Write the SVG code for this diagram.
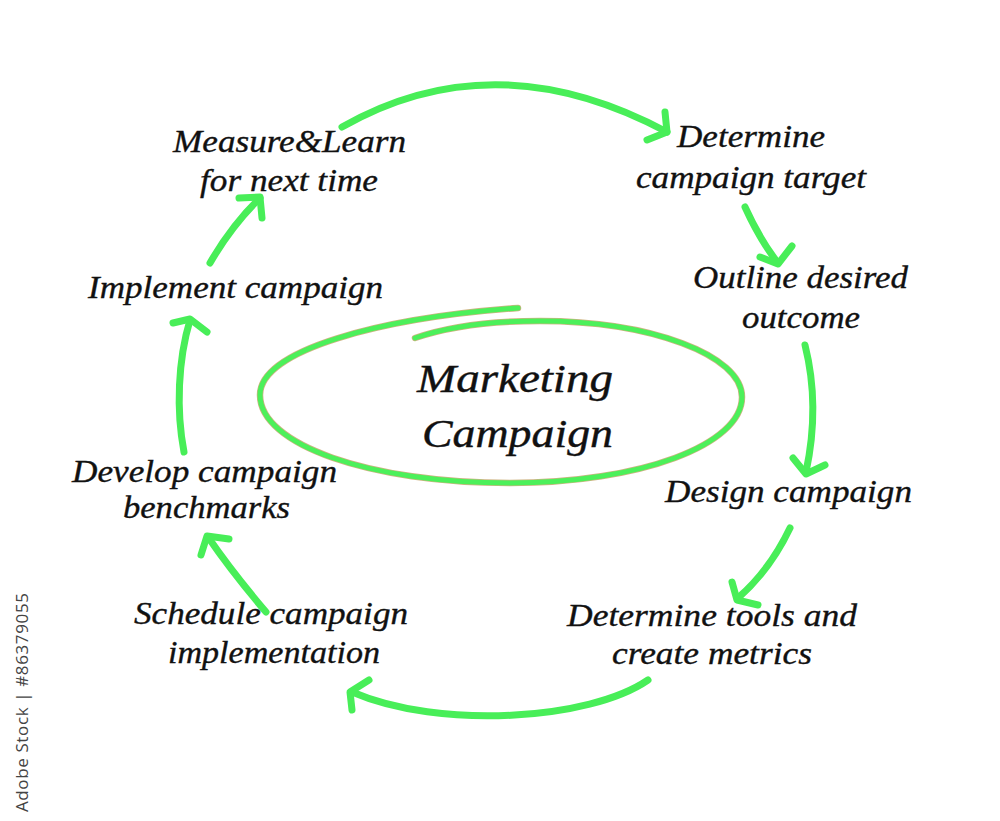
<svg xmlns="http://www.w3.org/2000/svg" width="1000" height="821" viewBox="0 0 1000 821">
<style>
.lbl{font-family:"Liberation Serif","Times New Roman",serif;font-style:italic;font-size:31px;fill:#111;stroke:#111;stroke-width:0.35;}
.title{font-family:"Liberation Serif","Times New Roman",serif;font-style:italic;font-size:40px;fill:#111;stroke:#111;stroke-width:0.4;}
.arr{fill:none;stroke:#48ee58;stroke-width:7;stroke-linecap:round;stroke-linejoin:round;}
.ringout{fill:none;stroke:#cdb382;stroke-width:6.5;stroke-linecap:round;}
.ringin{fill:none;stroke:#4cf05a;stroke-width:5;stroke-linecap:round;}
.wm{font-family:"Open Sans","DejaVu Sans",sans-serif;font-size:17px;fill:#444;}
</style>
<rect width="1000" height="821" fill="#ffffff"/>
<g id="center">
<path class="ringout" d="M415,338 C450,326 490,321 540,321 C650,321 742,355 742,397 C742,445 640,483 510,483 C370,483 260,445 260,395 C260,350 380,318 518,308"/>
<path class="ringin" d="M415,338 C450,326 490,321 540,321 C650,321 742,355 742,397 C742,445 640,483 510,483 C370,483 260,445 260,395 C260,350 380,318 518,308"/>
<text class="title" x="417" y="392" textLength="196" lengthAdjust="spacingAndGlyphs">Marketing</text>
<text class="title" x="422" y="447" textLength="191" lengthAdjust="spacingAndGlyphs">Campaign</text>
</g>
<g id="connectors">
<path class="arr" d="M342,127 Q495,40 667,132"/>
<polyline class="arr" points="665,112 667,132 647,140"/>
<path class="arr" d="M745,207 Q760,240 778,263"/>
<polyline class="arr" points="760,257 778,264 792,246"/>
<path class="arr" d="M805,345 C815,385 815,430 806,472"/>
<polyline class="arr" points="793,458 806,474 825,465"/>
<path class="arr" d="M790,528 Q770,570 738,598"/>
<polyline class="arr" points="732,582 737,600 758,605"/>
<path class="arr" d="M648,680 C590,720 440,730 352,692"/>
<polyline class="arr" points="369,680 350,692 352,710"/>
<path class="arr" d="M266,612 Q232,572 208,537"/>
<polyline class="arr" points="229,539 207,536 201,555"/>
<path class="arr" d="M184,452 C176,410 178,360 190,320"/>
<polyline class="arr" points="173,323 190,319 207,332"/>
<path class="arr" d="M210,263 Q232,225 260,198"/>
<polyline class="arr" points="239,198 260,197 262,218"/>
</g>
<g id="n1"><text class="lbl" x="173" y="152" textLength="233" lengthAdjust="spacingAndGlyphs">Measure&amp;Learn</text><text class="lbl" x="200" y="191" textLength="178" lengthAdjust="spacingAndGlyphs">for next time</text></g>
<g id="n2"><text class="lbl" x="677" y="147" textLength="148" lengthAdjust="spacingAndGlyphs">Determine</text><text class="lbl" x="636" y="188" textLength="230" lengthAdjust="spacingAndGlyphs">campaign target</text></g>
<g id="n3"><text class="lbl" x="693" y="288" textLength="215" lengthAdjust="spacingAndGlyphs">Outline desired</text><text class="lbl" x="742" y="328" textLength="118" lengthAdjust="spacingAndGlyphs">outcome</text></g>
<g id="n4"><text class="lbl" x="665" y="502" textLength="247" lengthAdjust="spacingAndGlyphs">Design campaign</text></g>
<g id="n5"><text class="lbl" x="567" y="626" textLength="290" lengthAdjust="spacingAndGlyphs">Determine tools and</text><text class="lbl" x="612" y="664" textLength="200" lengthAdjust="spacingAndGlyphs">create metrics</text></g>
<g id="n6"><text class="lbl" x="134" y="624" textLength="274" lengthAdjust="spacingAndGlyphs">Schedule campaign</text><text class="lbl" x="168" y="663" textLength="212" lengthAdjust="spacingAndGlyphs">implementation</text></g>
<g id="n7"><text class="lbl" x="72" y="482" textLength="265" lengthAdjust="spacingAndGlyphs">Develop campaign</text><text class="lbl" x="123" y="518" textLength="167" lengthAdjust="spacingAndGlyphs">benchmarks</text></g>
<g id="n8"><text class="lbl" x="88" y="298" textLength="295" lengthAdjust="spacingAndGlyphs">Implement campaign</text></g>
<text class="wm" transform="translate(28,812) rotate(-90)" x="0" y="0" textLength="219">Adobe Stock | #86379055</text>
</svg>
